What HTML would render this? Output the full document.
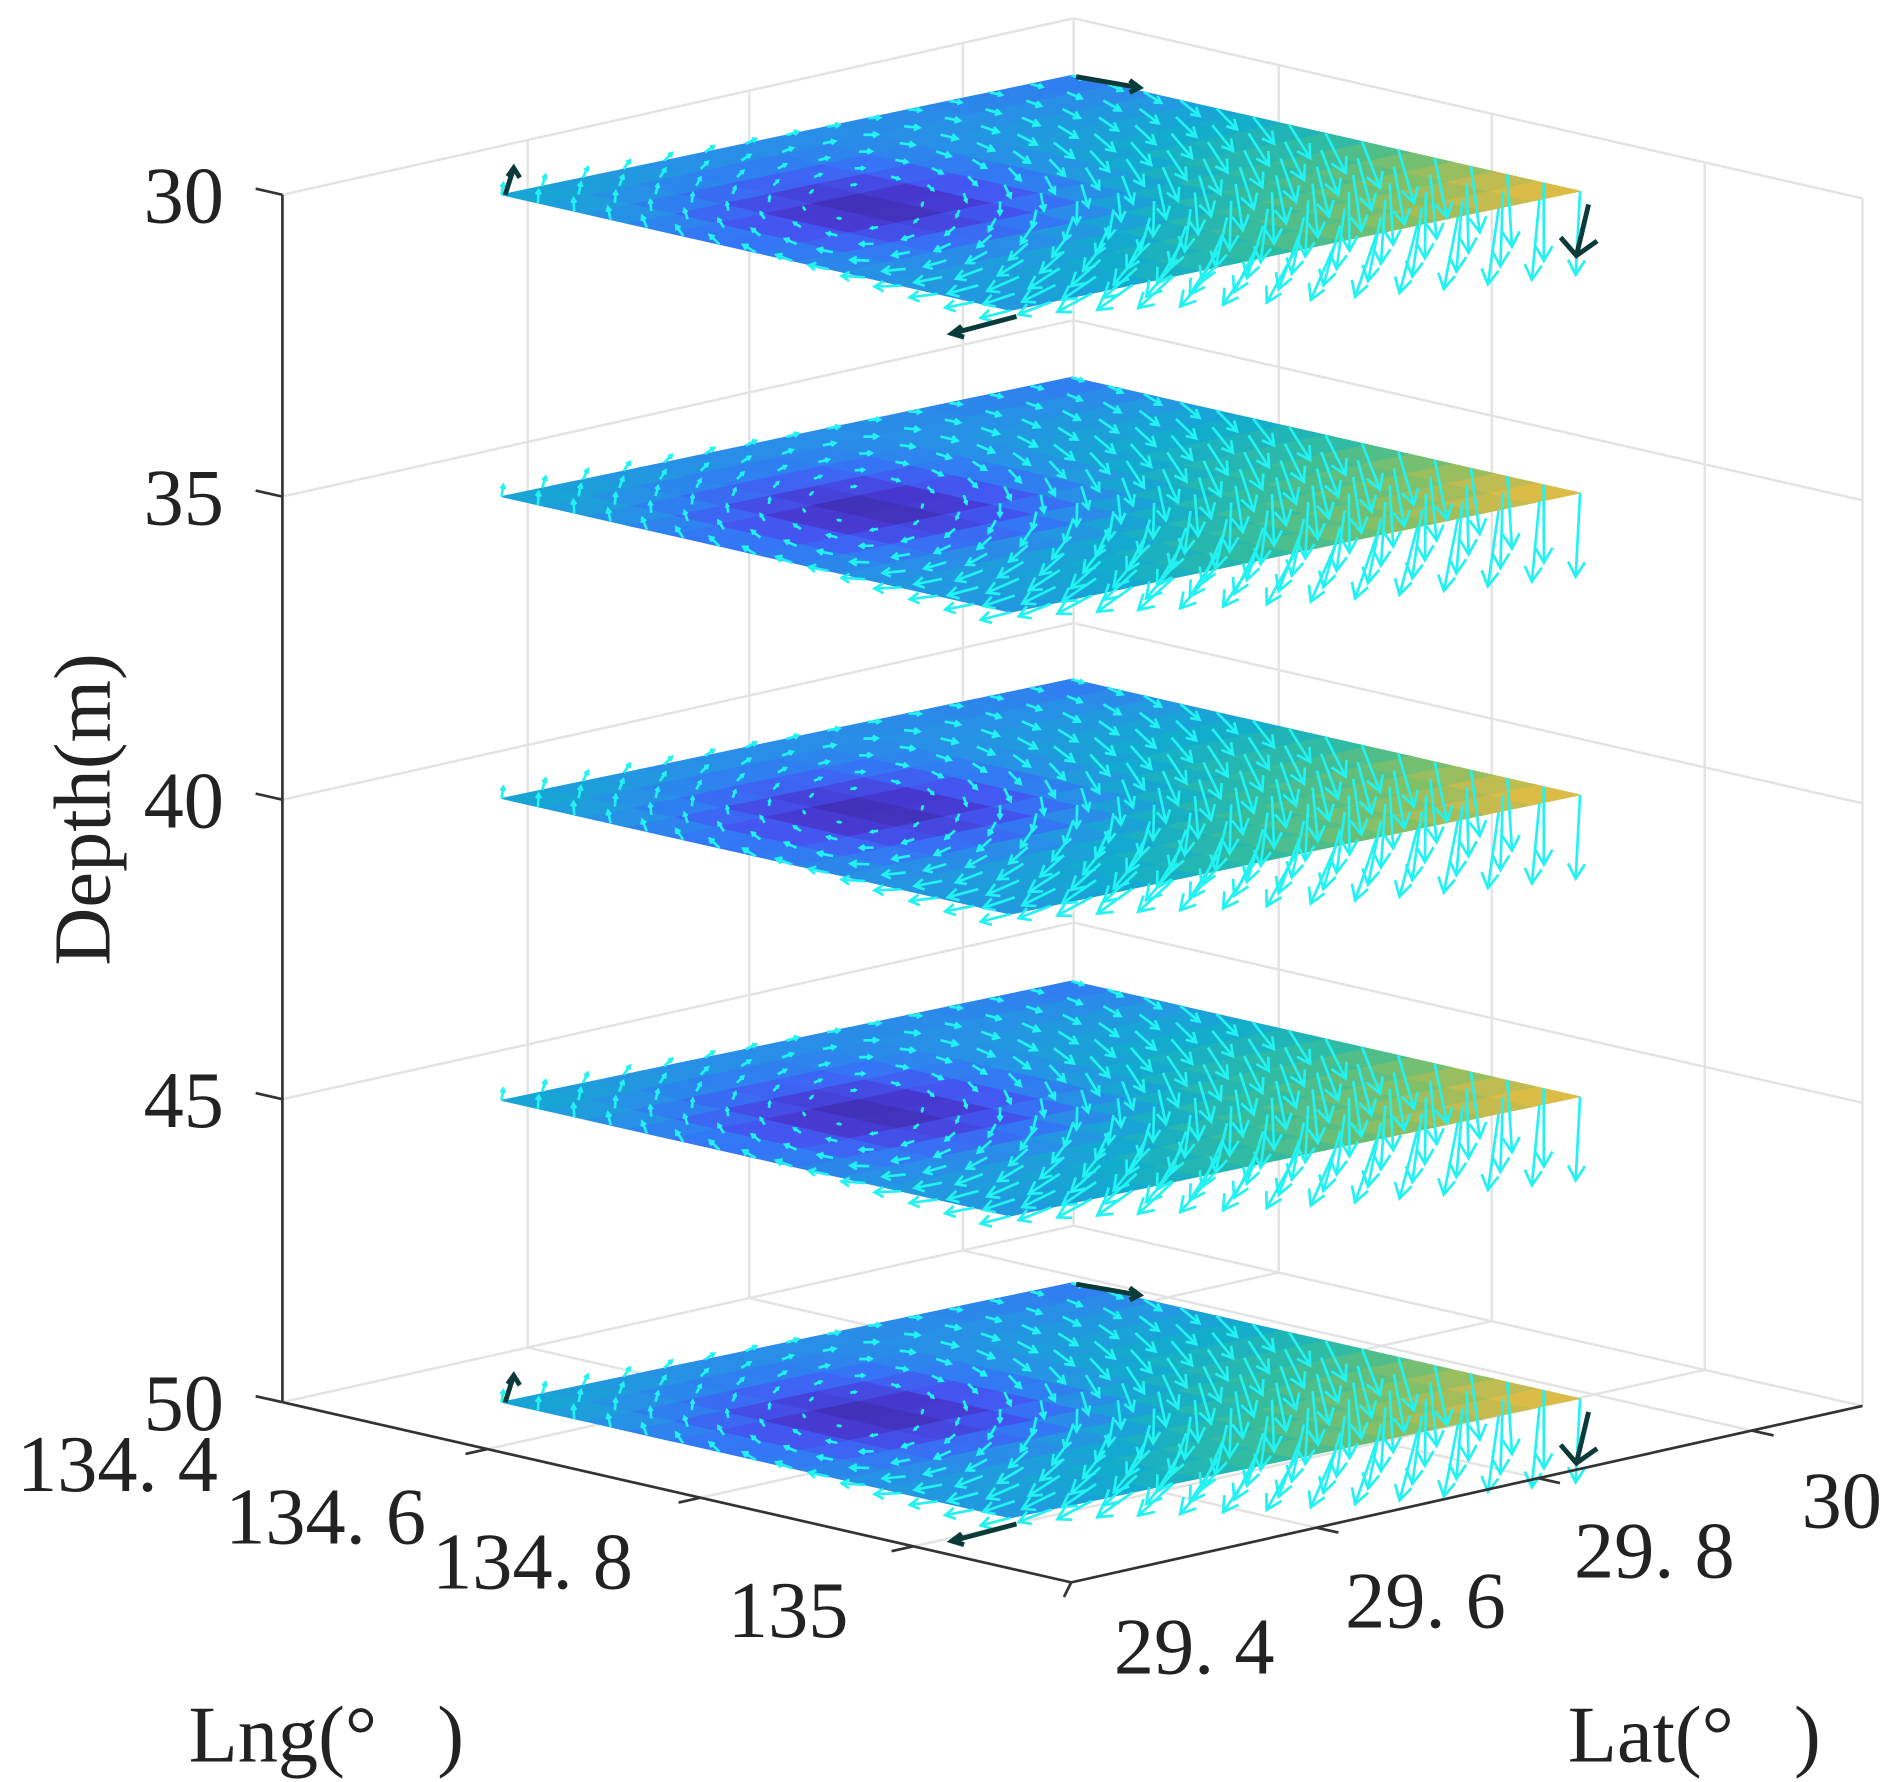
<!DOCTYPE html>
<html><head><meta charset="utf-8"><style>
html,body{margin:0;padding:0;background:#fff;}
svg{display:block;}
text{font-family:"Liberation Serif","Noto Serif CJK SC",serif;fill:#222;}
</style></head><body>
<svg id="s" width="1899" height="1782" viewBox="0 0 1560 1464" preserveAspectRatio="none" xmlns="http://www.w3.org/2000/svg">
<g id="grid" stroke="#e3e3e3" stroke-width="2" fill="none"></g>
<g id="planes"></g>
<g id="axes" stroke="#333" stroke-width="2.2" fill="none"></g>
<g font-size="66">
<text x="118" y="183">30</text>
<text x="118" y="431">35</text>
<text x="118" y="680">40</text>
<text x="118" y="926">45</text>
<text x="118" y="1175">50</text>
<text x="14" y="1225">134. 4</text>
<text x="185" y="1268">134. 6</text>
<text x="355" y="1305">134. 8</text>
<text x="598" y="1345">135</text>
<text x="915" y="1375">29. 4</text>
<text x="1105" y="1337">29. 6</text>
<text x="1293" y="1296">29. 8</text>
<text x="1480" y="1255">30</text>
<text x="155" y="1447">Lng(°&#160;&#160;&#160;)</text>
<text x="1288" y="1447">Lat(°&#160;&#160;&#160;)</text>
<text transform="translate(90,665) rotate(-90)" text-anchor="middle">Depth(m)</text>
</g>
</svg>
<script>
var NS="http://www.w3.org/2000/svg";
function el(p,t,a){var e=document.createElementNS(NS,t);for(var k in a)e.setAttribute(k,a[k]);p.appendChild(e);return e;}
var grid=document.getElementById('grid'),axes=document.getElementById('axes'),planes=document.getElementById('planes');
var L0=[232,1152],F0=[880,1300],R0=[1530,1155],B0=[882,1007];
var lv=[F0[0]-L0[0],F0[1]-L0[1]], tv=[R0[0]-F0[0],R0[1]-F0[1]];
function ln(g,a,b){el(g,'line',{x1:a[0],y1:a[1],x2:b[0],y2:b[1]});}
var lngF=[0.26,0.53,0.80], latF=[0.31,0.59,0.86];
var zs=[160,408,657,903,1152];
zs.forEach(function(y){var d=y-1152;ln(grid,[232,y],[B0[0],B0[1]+d]);ln(grid,[B0[0],B0[1]+d],[R0[0],R0[1]+d]);});
ln(grid,[B0[0],B0[1]-992],B0);ln(grid,[R0[0],R0[1]-992],R0);
latF.forEach(function(f){var p=[L0[0]+f*tv[0],L0[1]+f*tv[1]];ln(grid,p,[p[0],p[1]-992]);ln(grid,p,[p[0]+lv[0],p[1]+lv[1]]);});
lngF.forEach(function(f){var p=[L0[0]+f*lv[0],L0[1]+f*lv[1]];var q=[B0[0]+f*lv[0],B0[1]+f*lv[1]];ln(grid,q,[q[0],q[1]-992]);ln(grid,p,q);});
ln(axes,[232,160],[232,1152]);ln(axes,L0,F0);ln(axes,F0,R0);
zs.forEach(function(y){ln(axes,[210,y-5],[232,y]);});
lngF.forEach(function(f){var p=[L0[0]+f*lv[0],L0[1]+f*lv[1]];ln(axes,p,[p[0]-18,p[1]+4]);});
latF.forEach(function(f){var p=[F0[0]+f*tv[0],F0[1]+f*tv[1]];ln(axes,p,[p[0]+18,p[1]+4]);});
ln(axes,F0,[F0[0]-6,F0[1]+12]);
var P=[[0,55,36,140],[0.1,70,55,205],[0.2,68,85,240],[0.3,52,118,245],[0.4,38,148,228],[0.5,18,172,205],[0.6,48,188,162],[0.7,128,192,104],[0.8,212,186,74],[0.9,252,196,58],[1,249,251,20]];
function par(v){v=Math.max(0,Math.min(1,v));for(var i=0;i<P.length-1;i++){if(v<=P[i+1][0]){var t=(v-P[i][0])/(P[i+1][0]-P[i][0]);return 'rgb('+[1,2,3].map(function(k){return Math.round(P[i][k]+t*(P[i+1][k]-P[i][k]));}).join(',')+')';}}return 'rgb(249,251,20)';}
function fval(u,v){var b=0.5*(1-u)*(1-v)+0.4*u*(1-v)+0.3*(1-u)*v+0.86*u*v;return b-0.42*Math.exp(-((u-0.42)*(u-0.42)+(v-0.3)*(v-0.3))/0.07);}
for(var k=0;k<5;k++){
 var dy=k*248;var L=[412,160+dy],F=[830,255+dy],B=[880,62+dy];
 var du=[F[0]-L[0],F[1]-L[1]],dv=[B[0]-L[0],B[1]-L[1]];
 function pt(u,v){return [L[0]+u*du[0]+v*dv[0],L[1]+u*du[1]+v*dv[1]];}
 var g=el(planes,'g',{});var N=12;
 for(var i=0;i<N;i++)for(var j=0;j<N;j++){
  var a=pt(i/N,j/N),b=pt((i+1)/N,j/N),c=pt((i+1)/N,(j+1)/N),d=pt(i/N,(j+1)/N);
  var c0=par(fval((i+.5)/N,(j+.5)/N));
  el(g,'polygon',{points:[a,b,c,d].map(function(p){return p[0].toFixed(1)+','+p[1].toFixed(1);}).join(' '),fill:c0,stroke:c0,'stroke-width':0.8});
 }
 var ag=el(planes,'g',{stroke:'#22f2f2','stroke-width':2.2,fill:'none'});
 var C=pt(0.42,0.3);var M=14;
 for(var i=0;i<=M;i++)for(var j=0;j<=M;j++){
  var u=i/M,v=j/M;var p=pt(u,v);
  var dx=(p[0]-C[0])/450,dyn=(p[1]-C[1])/100;
  var r=Math.sqrt(dx*dx+dyn*dyn);
  var s=28*(0.4+u*v*1.4+u*0.6)*Math.min(1,r*1.6);
  var vx=-dyn*s/Math.max(r,0.2)*0.9, vy=dx*s*0.85/Math.max(r,0.2);
  vy+=u*v*12;vx-=u*v*10;
  var e=[p[0]+vx,p[1]+vy];var len=Math.sqrt(vx*vx+vy*vy);if(len<2)continue;
  var ux=vx/len,uy=vy/len,h=Math.min(14,len*0.38);
  var h1=[e[0]-h*(ux*0.87-uy*0.5),e[1]-h*(uy*0.87+ux*0.5)],h2=[e[0]-h*(ux*0.87+uy*0.5),e[1]-h*(uy*0.87-ux*0.5)];
  el(ag,'path',{d:'M'+p[0].toFixed(1)+' '+p[1].toFixed(1)+'L'+e[0].toFixed(1)+' '+e[1].toFixed(1)+'M'+h1[0].toFixed(1)+' '+h1[1].toFixed(1)+'L'+e[0].toFixed(1)+' '+e[1].toFixed(1)+'L'+h2[0].toFixed(1)+' '+h2[1].toFixed(1)});
 }
 if(k==0||k==4){
  var bg=el(planes,'g',{stroke:'#0a3a3a','stroke-width':4,fill:'none'});
  el(bg,'path',{d:'M1305 '+(168+dy)+'L1295 '+(210+dy)+'M1282 '+(195+dy)+'L1295 '+(210+dy)+'L1312 '+(198+dy)});
  el(bg,'path',{d:'M415 '+(160+dy)+'L422 '+(138+dy)+'M417 '+(145+dy)+'L422 '+(138+dy)+'L427 '+(146+dy)});
  el(bg,'path',{d:'M835 '+(260+dy)+'L782 '+(274+dy)+'M790 '+(268+dy)+'L782 '+(274+dy)+'L792 '+(277+dy)});
  el(bg,'path',{d:'M884 '+(63+dy)+'L936 '+(72+dy)+'M928 '+(66+dy)+'L936 '+(72+dy)+'L928 '+(76+dy)});
 }
}
</script>
</body></html>
